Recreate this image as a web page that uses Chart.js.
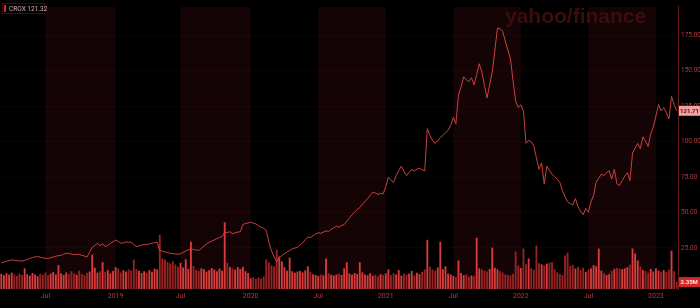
<!DOCTYPE html>
<html>
<head>
<meta charset="utf-8">
<script src="https://cdn.jsdelivr.net/npm/chart.js@4.4.1/dist/chart.umd.min.js"></script>
<style>
  html, body { margin: 0; padding: 0; background: #000; }
  #wrap { width: 700px; height: 308px; position: relative; }
</style>
</head>
<body>
<div id="wrap"><canvas id="chartCrox"></canvas></div>
<script>
// weekly data, first week starts Mon 2018-03-05
const startWeek = Date.UTC(2018, 2, 5);

const closePrice = [
  14.4, 15.0, 15.6, 16.0, 16.5, 16.3, 16.0, 15.8, 15.6, 16.2, 16.8,
  17.5, 18.2, 18.6, 19.0, 18.4, 17.9, 17.6, 17.5, 18.0, 18.6,
  19.2, 19.5, 19.7, 20.5, 21.3, 21.0, 20.6, 20.2, 20.6, 20.4,
  19.8, 19.2, 18.6, 22.0, 25.4, 26.8, 28.2, 26.6, 28.0, 25.9,
  26.8, 28.2, 29.4, 30.5, 29.6, 28.2, 28.6, 29.2, 29.0, 28.9,
  27.4, 25.9, 26.3, 26.9, 27.5, 27.3, 27.8, 28.3, 28.7, 28.9,
  23.2, 22.6, 22.1, 21.6, 21.3, 21.0, 20.7, 20.5, 20.9, 21.8,
  22.8, 23.6, 24.3, 23.9, 23.5, 23.2, 24.6, 26.2, 27.8, 28.9,
  29.8, 30.6, 31.5, 32.3, 33.0, 36.0, 35.8, 36.4, 35.0, 35.6,
  36.1, 36.4, 41.5, 42.2, 42.6, 43.1, 42.4, 41.9, 40.6, 39.6,
  38.8, 37.4, 28.9, 23.0, 18.6, 15.1, 18.0, 19.6, 20.9, 22.0,
  23.2, 24.3, 24.9, 25.4, 27.0, 28.6, 30.8, 32.6, 32.3, 33.6,
  34.8, 35.7, 35.2, 36.2, 37.0, 36.6, 38.1, 39.2, 40.3, 39.6,
  40.8, 41.5, 43.8, 46.0, 48.4, 50.2, 52.0, 53.5, 55.8, 57.6,
  59.8, 62.0, 64.4, 63.6, 62.8, 63.4, 63.2, 68.0, 74.7, 72.6,
  71.3, 76.0, 79.5, 82.7, 79.0, 75.9, 78.2, 80.4, 79.2, 80.6,
  81.2, 80.2, 79.3, 109.1, 104.5, 101.0, 98.7, 100.6, 102.8, 104.4,
  106.2, 107.9, 111.3, 117.1, 112.5, 133.1, 138.5, 145.7, 143.6, 142.2,
  145.0, 140.0, 147.5, 154.9, 149.1, 139.5, 130.8, 140.2, 149.1, 164.5,
  180.0, 179.5, 177.8, 171.0, 164.6, 158.3, 143.0, 128.5, 124.0, 126.0,
  121.6, 98.7, 100.8, 99.9, 97.0, 88.5, 80.4, 85.0, 70.1, 82.7,
  79.6, 77.0, 75.2, 73.5, 71.3, 65.6, 61.2, 57.5, 56.3, 55.2,
  59.8, 54.1, 51.0, 48.4, 52.9, 50.1, 57.5, 62.1, 71.3, 74.2,
  77.0, 76.0, 78.2, 79.3, 73.5, 80.4, 70.1, 69.0, 72.4, 75.6,
  78.1, 72.4, 91.9, 95.4, 98.7, 95.0, 103.3, 100.2, 96.5, 105.6,
  110.2, 118.0, 126.2, 121.6, 124.0, 120.3, 115.9, 131.9, 126.2, 121.71,
];

// volume in millions
const volumeM = [
  5.1, 4.6, 5.3, 4.8, 5.5, 4.9, 4.4, 5.2, 4.7, 7.0,
  5.0, 4.5, 5.4, 4.9, 4.3, 5.1, 4.8, 5.6, 4.6, 5.2,
  5.8, 4.9, 8.1, 5.3, 4.7, 5.5, 5.0, 6.0, 5.2, 4.8,
  6.2, 5.1, 4.6, 5.4, 5.9, 11.7, 7.2, 5.5, 6.0, 9.1,
  5.8, 6.4, 5.2, 6.1, 7.4, 7.0, 5.6, 6.3, 5.9, 6.6,
  6.2, 10.0, 6.7, 6.2, 5.4, 6.0, 5.5, 6.4, 5.8, 6.9,
  6.6, 18.5, 10.4, 10.0, 9.2, 8.7, 9.4, 8.3, 7.5, 8.9,
  7.3, 10.1, 6.8, 16.1, 7.8, 6.5, 6.1, 7.0, 6.7, 5.9,
  6.4, 7.1, 6.6, 6.0, 6.9, 6.2, 22.8, 8.9, 7.4, 7.0,
  6.5, 7.4, 6.8, 7.5, 6.0, 5.4, 3.6, 3.9, 3.4, 3.8,
  3.5, 4.2, 10.1, 9.1, 8.0, 7.6, 13.4, 11.1, 9.4, 7.4,
  6.2, 10.7, 6.0, 5.5, 5.9, 6.1, 5.6, 6.3, 7.7, 5.8,
  5.0, 4.7, 4.4, 4.9, 4.6, 10.4, 5.3, 4.8, 4.5, 4.9,
  5.1, 4.7, 7.0, 9.1, 5.2, 4.8, 5.4, 5.0, 9.1, 5.6,
  4.9, 4.6, 5.3, 4.5, 4.8, 4.3, 5.0, 4.7, 5.3, 6.7,
  4.7, 5.3, 4.9, 6.4, 4.5, 5.1, 4.8, 5.2, 6.1, 4.6,
  5.5, 5.0, 5.8, 6.6, 16.8, 7.5, 6.6, 6.2, 7.3, 16.1,
  6.7, 7.7, 5.2, 4.9, 4.4, 4.0, 9.7, 5.4, 4.6, 4.9,
  4.1, 4.5, 4.3, 17.5, 7.0, 6.6, 6.2, 5.9, 6.8, 14.1,
  7.2, 6.6, 6.0, 5.6, 4.9, 4.7, 4.5, 5.1, 12.8, 8.0,
  7.1, 13.8, 8.4, 10.4, 7.0, 6.5, 14.8, 8.7, 8.4, 8.0,
  8.6, 8.9, 9.2, 6.7, 5.6, 5.1, 4.7, 11.4, 12.4, 7.8,
  8.2, 6.9, 7.5, 6.4, 7.2, 5.8, 6.6, 7.0, 8.1, 7.7,
  13.8, 6.2, 5.4, 4.7, 5.0, 6.1, 6.8, 7.1, 6.9, 6.7,
  7.0, 7.4, 8.2, 13.8, 12.1, 9.7, 7.6, 6.4, 6.0, 5.5,
  6.8, 5.9, 7.0, 6.2, 5.8, 6.4, 5.7, 6.6, 13.1, 6.0, 2.35,
];

const priceTicks = [25, 50, 75, 100, 125, 150, 175];
const tickDates = [
  "2018-07-02", "2019-01-07", "2019-07-01", "2020-01-06", "2020-07-06",
  "2021-01-04", "2021-07-05", "2022-01-03", "2022-07-04", "2023-01-02",
];
const tickTexts = ["Jul", "2019", "Jul", "2020", "Jul", "2021", "Jul", "2022", "Jul", "2023"];

const symbol = "CROX";
const headerPrice = "121.32";
const lastVolumeText = "2.35M";

const weekLabels = closePrice.map((_, i) =>
  new Date(startWeek + i * 7 * 86400000).toISOString().slice(0, 10)
);

const barColors = volumeM.map((v, i) =>
  i > 0 && closePrice[i] < closePrice[i - 1] ? "#9a2222" : "#d83c3c"
);

const axisColor = "#b53a3a";

// dark bands Jul -> Jan, plus watermark
const bandsPlugin = {
  id: "bands",
  beforeDraw(chart) {
    const { ctx, chartArea, scales } = chart;
    const x = scales.x;
    ctx.save();
    ctx.fillStyle = "#140405";
    for (let k = 0; k < tickTexts.length; k++) {
      if (tickTexts[k] !== "Jul") continue;
      const x0 = x.getPixelForValue(weekLabels.indexOf(tickDates[k]));
      const next = tickDates[k + 1];
      const x1 = next ? x.getPixelForValue(weekLabels.indexOf(next)) : chartArea.right;
      ctx.fillRect(x0, chartArea.top, x1 - x0, chartArea.bottom - chartArea.top);
    }
    ctx.fillStyle = "#3c0c10";
    ctx.font = "bold 21px 'Liberation Sans', Arial, sans-serif";
    ctx.textBaseline = "alphabetic";
    ctx.fillText("yahoo/finance", 505, 23);
    ctx.restore();
  },
};

const labelsPlugin = {
  id: "labels",
  afterDraw(chart) {
    const { ctx, chartArea, scales } = chart;
    const right = chartArea.right;
    ctx.save();
    ctx.textBaseline = "middle";

    // last price tag
    const last = closePrice[closePrice.length - 1];
    const yp = scales.yPrice.getPixelForValue(last);
    ctx.fillStyle = "#f2a0a0";
    ctx.fillRect(right + 1, yp - 5, 21, 10);
    ctx.fillStyle = "#5a0c0c";
    ctx.font = "bold 6px Roboto, sans-serif";
    ctx.fillText(last.toFixed(2), right + 2, yp + 0.5);

    // last volume tag
    const yv = scales.yVol.getPixelForValue(volumeM[volumeM.length - 1]);
    ctx.fillStyle = "#d42828";
    ctx.fillRect(right + 1, yv - 5, 21, 10);
    ctx.fillStyle = "#ffe0e0";
    ctx.fillText(lastVolumeText, right + 2.5, yv + 0.5);

    // header box
    ctx.strokeStyle = "#3a0d0f";
    ctx.lineWidth = 1;
    ctx.strokeRect(2.5, 3.5, 42, 10);
    ctx.fillStyle = "#d12a2a";
    ctx.fillRect(4, 5, 2, 7);
    ctx.fillStyle = "#d9b4b4";
    ctx.font = "6.5px Roboto, sans-serif";
    ctx.fillText(symbol + " " + headerPrice, 9, 9);
    ctx.restore();
  },
};

new Chart(document.getElementById("chartCrox").getContext("2d"), {
  data: {
    labels: weekLabels,
    datasets: [
      {
        type: "line",
        label: symbol,
        data: closePrice,
        yAxisID: "yPrice",
        borderColor: "#cc3f3f",
        borderWidth: 1,
        pointRadius: 0,
        tension: 0,
        order: 0,
      },
      {
        type: "bar",
        label: "Volume",
        data: volumeM,
        yAxisID: "yVol",
        backgroundColor: barColors,
        barThickness: 1.2,
        order: 1,
      },
    ],
  },
  options: {
    responsive: true,
    maintainAspectRatio: false,
    animation: false,
    layout: { padding: 0 },
    plugins: { legend: { display: false }, tooltip: { enabled: false } },
    scales: {
      x: {
        type: "category",
        offset: true,
        grid: { display: false, drawTicks: false },
        border: { display: false },
        ticks: {
          autoSkip: false,
          maxRotation: 0,
          padding: 3,
          color: axisColor,
          font: { size: 7, family: "Roboto" },
          callback(value) {
            const k = tickDates.indexOf(weekLabels[value]);
            return k >= 0 ? tickTexts[k] : null;
          },
        },
        afterFit(s) { s.height = 19; },
      },
      yPrice: {
        type: "linear",
        position: "right",
        min: -4,
        max: 195,
        afterBuildTicks(s) { s.ticks = priceTicks.map((v) => ({ value: v })); },
        grid: { color: "rgba(150, 30, 30, 0.09)", drawTicks: false },
        border: { color: "#6a1c1c" },
        ticks: {
          padding: 3,
          color: axisColor,
          font: { size: 6.5, family: "Roboto" },
          callback: (v) => v.toFixed(2),
        },
        afterFit(s) { s.width = 22; },
      },
      yVol: {
        type: "linear",
        display: false,
        min: 0,
        max: 97,
      },
    },
  },
  plugins: [bandsPlugin, labelsPlugin],
});
</script>
</body>
</html>
